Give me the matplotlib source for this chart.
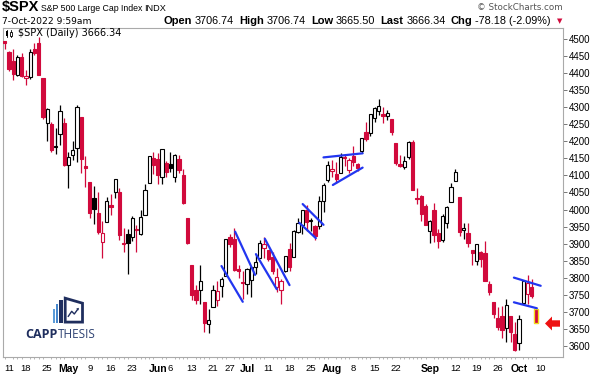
import matplotlib
matplotlib.use("Agg")
import matplotlib.pyplot as plt
from matplotlib.patches import Rectangle, Polygon
import numpy as np

plt.rcParams['font.family'] = ['Liberation Sans', 'DejaVu Sans']

# --- daily $SPX bars, 8-Apr-2022 .. 7-Oct-2022 ---
dates = [
    "04-08", "04-11", "04-12", "04-13", "04-14", "04-18", "04-19", "04-20", "04-21", "04-22",
    "04-25", "04-26", "04-27", "04-28", "04-29", "05-02", "05-03", "05-04", "05-05", "05-06",
    "05-09", "05-10", "05-11", "05-12", "05-13", "05-16", "05-17", "05-18", "05-19", "05-20",
    "05-23", "05-24", "05-25", "05-26", "05-27", "05-31", "06-01", "06-02", "06-03", "06-06",
    "06-07", "06-08", "06-09", "06-10", "06-13", "06-14", "06-15", "06-16", "06-17", "06-21",
    "06-22", "06-23", "06-24", "06-27", "06-28", "06-29", "06-30", "07-01", "07-05", "07-06",
    "07-07", "07-08", "07-11", "07-12", "07-13", "07-14", "07-15", "07-18", "07-19", "07-20",
    "07-21", "07-22", "07-25", "07-26", "07-27", "07-28", "07-29", "08-01", "08-02", "08-03",
    "08-04", "08-05", "08-08", "08-09", "08-10", "08-11", "08-12", "08-15", "08-16", "08-17",
    "08-18", "08-19", "08-22", "08-23", "08-24", "08-25", "08-26", "08-29", "08-30", "08-31",
    "09-01", "09-02", "09-06", "09-07", "09-08", "09-09", "09-12", "09-13", "09-14", "09-15",
    "09-16", "09-19", "09-20", "09-21", "09-22", "09-23", "09-26", "09-27", "09-28", "09-29",
    "09-30", "10-03", "10-04", "10-05", "10-06", "10-07",
]
opens = [
    4494, 4462, 4437, 4394, 4449, 4385, 4390, 4472, 4489, 4385,
    4255, 4250, 4187, 4223, 4253, 4131, 4159, 4182, 4271, 4128,
    4081, 4035, 3990, 3904, 3963, 4013, 4052, 4051, 3899, 3927,
    3919, 3943, 3929, 3985, 4077, 4151, 4149, 4096, 4138, 4135,
    4096, 4148, 4101, 3975, 3838, 3763, 3764, 3728, 3665, 3715,
    3733, 3774, 3805, 3920, 3913, 3826, 3786, 3781, 3792, 3831,
    3858, 3888, 3880, 3860, 3771, 3764, 3818, 3883, 3860, 3935,
    3955, 3999, 3966, 3953, 3951, 4026, 4087, 4112, 4105, 4108,
    4154, 4115, 4156, 4133, 4171, 4227, 4225, 4269, 4290, 4281,
    4274, 4266, 4195, 4134, 4126, 4154, 4198, 4034, 4041, 4010,
    3937, 4000, 3930, 3909, 3960, 4022, 4084, 4037, 3940, 3932,
    3880, 3849, 3875, 3871, 3782, 3727, 3682, 3687, 3651, 3687,
    3633, 3609, 3726, 3753, 3771, 3706.74,
]
highs = [
    4496, 4464, 4471, 4453, 4461, 4411, 4471, 4489, 4506, 4385,
    4299, 4258, 4240, 4308, 4269, 4169, 4200, 4308, 4271, 4157,
    4082, 4068, 4050, 3965, 4038, 4046, 4090, 4062, 3946, 3943,
    3981, 3955, 3999, 4076, 4158, 4169, 4166, 4178, 4143, 4168,
    4164, 4161, 4120, 3975, 3838, 3778, 3838, 3728, 3708, 3779,
    3791, 3802, 3914, 3928, 3945, 3836, 3819, 3829, 3832, 3870,
    3910, 3919, 3880, 3874, 3827, 3796, 3863, 3902, 3940, 3975,
    3999, 4012, 3976, 3954, 4040, 4079, 4141, 4144, 4140, 4167,
    4161, 4151, 4187, 4137, 4211, 4257, 4280, 4301, 4325, 4302,
    4292, 4266, 4196, 4159, 4156, 4200, 4203, 4062, 4044, 4015,
    3970, 4019, 3942, 3987, 4010, 4077, 4119, 4038, 3961, 3960,
    3880, 3900, 3877, 3907, 3790, 3727, 3715, 3717, 3736, 3687,
    3671, 3689, 3794, 3807, 3797, 3706.74,
]
lows = [
    4471, 4408, 4381, 4392, 4390, 4367, 4382, 4455, 4394, 4267,
    4200, 4170, 4162, 4188, 4129, 4062, 4146, 4139, 4106, 4067,
    3975, 3958, 3928, 3859, 3963, 3983, 4034, 3911, 3876, 3810,
    3908, 3875, 3925, 3985, 4077, 4104, 4074, 4074, 4096, 4110,
    4080, 4107, 4017, 3900, 3734, 3722, 3723, 3639, 3636, 3715,
    3717, 3743, 3805, 3889, 3820, 3800, 3738, 3752, 3742, 3811,
    3858, 3858, 3848, 3812, 3758, 3722, 3817, 3819, 3860, 3930,
    3927, 3938, 3937, 3911, 3944, 3992, 4080, 4096, 4079, 4107,
    4129, 4107, 4128, 4112, 4165, 4201, 4217, 4256, 4277, 4253,
    4263, 4219, 4131, 4124, 4120, 4148, 4058, 4017, 3965, 3954,
    3903, 3906, 3886, 3906, 3945, 4022, 4084, 3921, 3912, 3889,
    3838, 3838, 3831, 3789, 3749, 3680, 3645, 3623, 3610, 3610,
    3584, 3588, 3726, 3722, 3739, 3665.50,
]
closes = [
    4488, 4413, 4397, 4447, 4393, 4392, 4462, 4459, 4394, 4272,
    4296, 4175, 4184, 4288, 4132, 4155, 4175, 4300, 4147, 4123,
    3991, 4001, 3935, 3930, 4024, 4008, 4089, 3924, 3901, 3901.4,
    3974, 3941, 3979, 4058, 4158, 4132, 4101, 4177, 4109, 4121,
    4161, 4116, 4018, 3901, 3750, 3735, 3790, 3667, 3675, 3765,
    3760, 3796, 3912, 3900, 3822, 3819, 3785, 3825, 3831, 3845,
    3903, 3899, 3854, 3819, 3802, 3790, 3863, 3831, 3937, 3960,
    3999, 3962, 3967, 3921, 4024, 4072, 4130, 4119, 4091, 4155,
    4152, 4145, 4140, 4122, 4210, 4207, 4280, 4297, 4305, 4274,
    4284, 4228, 4138, 4129, 4141, 4199, 4058, 4031, 3986, 3955,
    3967, 3924, 3908, 3980, 4006, 4067, 4110, 3933, 3946, 3901,
    3873, 3900, 3856, 3790, 3758, 3693, 3655, 3647, 3719, 3640,
    3586, 3678, 3791, 3783, 3745, 3666.34,
]
prior_close = 4500  # close of the bar before the first one shown

# x-axis labels (bar positions; "10" = next Monday, one bar past the data)
tick_dates = ["04-11", "04-18", "04-25", "05-02", "05-09", "05-16", "05-23", "06-01",
              "06-06", "06-13", "06-21", "06-27", "07-01", "07-11", "07-18", "07-25",
              "08-01", "08-08", "08-15", "08-22", "09-01", "09-12", "09-19", "09-26",
              "10-03", "10-10"]
tick_labels = ["11", "18", "25", "May", "9", "16", "23", "Jun", "6", "13", "21", "27",
               "Jul", "11", "18", "25", "Aug", "8", "15", "22", "Sep", "12", "19", "26",
               "Oct", "10"]
month_labels = {"May", "Jun", "Jul", "Aug", "Sep", "Oct"}
price_ticks = list(range(3600, 4501, 50))

# hand-drawn trend lines: (bar0, price0, bar1, price1)
trend_lines = [
    (51.0, 3834, 56.0, 3729), (54.2, 3935, 58.9, 3808),
    (59.1, 3869, 64.0, 3766), (61.2, 3914, 67.0, 3778),
    (70.1, 4016, 75.0, 3955), (69.3, 3961, 73.2, 3916),
    (75.0, 4153, 84.2, 4165), (77.2, 4072, 84.2, 4123),
    (119.8, 3800, 126.1, 3776), (119.8, 3727.5, 125.2, 3710),
]

# quote line of the header
quote = [("Open", "3706.74"), ("High", "3706.74"), ("Low", "3665.50"),
         ("Last", "3666.34"), ("Chg", "-78.18 (-2.09%)")]

RED = '#D10A3C'
BLUE = '#2236F0'
GRID = '#AAAAAA'
NAVY = '#1F2E5E'

W, H = 595, 376
fig = plt.figure(figsize=(W / 100, H / 100), dpi=100)
ax = fig.add_axes([3 / W, (H - 357.3) / H, 560 / W, (357.3 - 28) / H])

x = np.arange(len(closes))
prev = [prior_close] + closes[:-1]
colors = [RED if c < p else 'black' for c, p in zip(closes, prev)]
hollow = [c > o for o, c in zip(opens, closes)]
bottoms = [min(o, c) for o, c in zip(opens, closes)]
heights = [max(abs(c - o), 2.0) for o, c in zip(opens, closes)]
faces = ['white' if h else col for h, col in zip(hollow, colors)]

ax.vlines(x, lows, highs, colors=colors, lw=0.9, zorder=2)
ax.bar(x, heights, bottom=bottoms, width=0.72, color=faces, edgecolor=colors,
       linewidth=0.8, zorder=3)
# last bar highlighted
ax.bar(x[-1:], heights[-1:], bottom=bottoms[-1:], width=0.9, color=RED,
       edgecolor='#F2E21A', linewidth=0.9, zorder=4)

for x0, p0, x1, p1 in trend_lines:
    ax.plot([x0, x1], [p0, p1], color=BLUE, lw=1.6, solid_capstyle='round', zorder=5)

ax.set_xlim(-0.41, 131.35)
ax.set_ylim(3566, 4533)

axis_dates = dates + ["10-10"]
ax.set_xticks([axis_dates.index(d) for d in tick_dates])
ax.set_xticklabels(tick_labels)
for lbl in ax.get_xticklabels():
    if lbl.get_text() in month_labels:
        lbl.set_fontweight('bold')
        lbl.set_fontsize(7.5)
    else:
        lbl.set_fontsize(6.8)
ax.set_xticks(x, minor=True)
ax.tick_params(axis='x', which='major', length=0, pad=5)
ax.tick_params(axis='x', which='minor', length=1.5, width=0.6, color=GRID)

ax.yaxis.tick_right()
ax.set_yticks(price_ticks)
ax.tick_params(axis='y', length=3, width=0.7, color='#777777', pad=1, labelsize=7)

for s in ax.spines.values():
    s.set_color(GRID)
    s.set_linewidth(0.8)

# overlay in pixel coordinates for header and logo
ov = fig.add_axes([0, 0, 1, 1], facecolor='none')
ov.set_xlim(0, W)
ov.set_ylim(H, 0)
ov.axis('off')

ov.text(1.5, 11, "$SPX", fontsize=10.5, fontweight='bold', va='baseline')
ov.text(41, 11, "S&P 500 Large Cap Index", fontsize=6.3, va='baseline')
ov.text(144, 11, "INDX", fontsize=6.6, va='baseline')
ov.text(563, 10, "\u00a9 StockCharts.com", fontsize=6.3, color='#555555', ha='right',
        va='baseline', family='DejaVu Sans')
ov.text(1.5, 24, "7-Oct-2022 9:59am", fontsize=6.6, va='baseline', family='DejaVu Sans')

renderer = fig.canvas.get_renderer()
px = 163.3
for label, value in quote:
    t = ov.text(px, 24, label, fontsize=8, va='baseline', fontweight='bold')
    px += t.get_window_extent(renderer).width + 3
    t = ov.text(px, 24, value, fontsize=7.8, va='baseline')
    px += t.get_window_extent(renderer).width + 5
ov.text(px + 1, 23.5, "\u25bc", fontsize=5, color=RED, ha='left', va='baseline',
        family='DejaVu Sans')

# chart title inside plot area
ov.text(18.3, 36.5, "$SPX (Daily) 3666.34", fontsize=7, va='baseline', family='DejaVu Sans')
ov.add_patch(Rectangle((6.2, 31), 2.2, 4.5, facecolor='black', lw=0))
ov.plot([7.3, 7.3], [29.5, 37], color='black', lw=0.6)
ov.add_patch(Rectangle((10.2, 31.5), 2.2, 4, facecolor='white', edgecolor='black', lw=0.6))
ov.plot([11.3, 11.3], [30, 31.5], color='black', lw=0.6)
ov.plot([11.3, 11.3], [35.5, 37], color='black', lw=0.6)

# red arrow pointing at the last bar
ov.add_patch(Polygon([(545, 323.5), (552, 316.5), (552, 320.3), (560, 320.3),
                      (560, 326.7), (552, 326.7), (552, 330.5)],
                     closed=True, facecolor='#EE1111', lw=0))

# CAPPTHESIS logo
ov.add_patch(Rectangle((52.7, 308.7), 1.9, 14.3, facecolor='#5B9BD8', lw=0))
ov.add_patch(Rectangle((55.8, 304.0), 2.5, 19.0, facecolor='#4787CC', lw=0))
ov.add_patch(Rectangle((59.4, 299.7), 3.2, 23.3, facecolor=NAVY, lw=0))
ov.add_patch(Polygon([(65.2, 298.2), (82.5, 303.2), (82.5, 322.1), (65.2, 322.1)],
                     closed=True, facecolor='white', edgecolor=NAVY, lw=2.0))
ov.plot([68.3, 71.7, 74.3, 77.8], [316.3, 311.3, 314, 309.2], color=NAVY, lw=1.0)
ov.add_patch(Polygon([(79, 307.8), (76.2, 308.6), (78.2, 310.6)], closed=True,
                     facecolor=NAVY, lw=0))
ov.text(25, 337.5, "CAPP", fontsize=9, fontweight='bold', color=NAVY, va='baseline',
        family='Open Sans')
ov.text(57.7, 337.5, "THESIS", fontsize=8.5, color='#2F4373', va='baseline',
        family='Open Sans')

fig.savefig("out.png", dpi=100)
